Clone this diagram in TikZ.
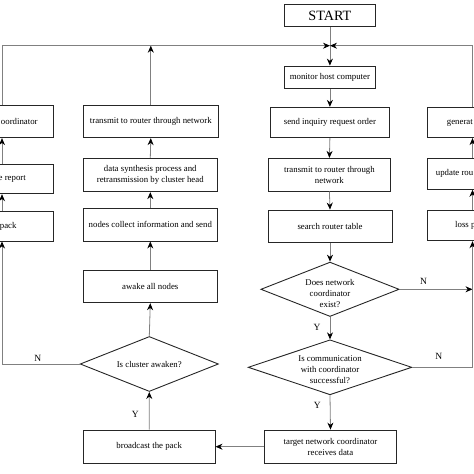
\documentclass[tikz,border=0pt]{standalone}
\usepackage{fontspec}
\setmainfont{Liberation Serif}
\usetikzlibrary{arrows.meta,shapes.geometric}
\begin{document}
\begin{tikzpicture}[x=1pt,y=-1pt,
  box/.style={draw=black!85,line width=0.9pt,rectangle,inner sep=0pt,align=center,font=\fontsize{8.8}{11}\selectfont},
  dia/.style={draw=black!85,line width=0.9pt,diamond,inner sep=0pt},
  txt/.style={inner sep=0pt,align=center,font=\fontsize{8.8}{11}\selectfont},
  lab/.style={inner sep=0pt,font=\fontsize{9.5}{11}\selectfont},
  conn/.style={draw=black!50,line width=0.8pt},
  arr/.style={conn,-{Stealth[length=7pt,width=6pt,fill=black,color=black]}}]
\useasboundingbox (0,0) rectangle (474,474);
\clip (0,0) rectangle (474,474);
% centre column
\node[box,minimum width=90.3pt,minimum height=22.7pt,font=\fontsize{14.2}{16}\selectfont] (st) at (329.9,15.4) {START};
\coordinate (junc) at (330,45.7);
\node[box,minimum width=90.3pt,minimum height=22.7pt] (mon) at (329.9,77.4) {monitor host computer};
\node[box,minimum width=119.7pt,minimum height=30.4pt] (snd) at (329.9,122.5) {send inquiry request order};
\node[box,minimum width=122.7pt,minimum height=32.7pt] (trr) at (329.4,174.7) {transmit to router through\\network};
\node[box,minimum width=124pt,minimum height=32.7pt] (src) at (330,226.4) {search router table};
\node[dia,minimum width=138.3pt,minimum height=54.4pt] (d1) at (330,289.3) {};
\node[txt] at (330,293.3) {Does network\\coordinator\\exist?};
\node[dia,minimum width=163.7pt,minimum height=55pt] (d2) at (330,367.3) {};
\node[txt] at (330,370) {Is communication\\with coordinator\\successful?};
\node[box,minimum width=131.6pt,minimum height=33.3pt] (tgt) at (330.5,446.7) {target network coordinator\\receives data};
% left-centre column
\node[box,minimum width=131.7pt,minimum height=33.3pt] (bc) at (149.2,446.7) {broadcast the pack};
\node[dia,minimum width=138.3pt,minimum height=55pt] (cl) at (149.3,364) {};
\node[txt] at (149.3,364.3) {Is cluster awaken?};
\node[box,minimum width=134pt,minimum height=32.7pt] (aw) at (150.3,286.4) {awake all nodes};
\node[box,minimum width=134pt,minimum height=32.7pt] (nc) at (150.3,224.7) {nodes collect information and send};
\node[box,minimum width=134pt,minimum height=33.4pt] (ds) at (150.3,175) {data synthesis process and\\retransmission by cluster head};
\node[box,minimum width=135pt,minimum height=32pt] (tl) at (150.8,121.7) {transmit to router through network};
% left edge column
\node[box,minimum width=102pt,minimum height=32pt] (oc) at (2,121.7) {};
\node[txt,anchor=west] at (0.8,121.7) {oordinator};
\node[box,minimum width=102pt,minimum height=29.7pt] (er) at (2,178.9) {};
\node[txt,anchor=east] at (26,178.9) {e report};
\node[box,minimum width=102pt,minimum height=29.3pt] (pk) at (2,226.4) {};
\node[txt,anchor=east] at (16.7,226.4) {pack};
% right edge column
\node[box,minimum width=90.4pt,minimum height=30.4pt] (gn) at (472.5,122.5) {};
\node[txt,anchor=west] at (446.7,122.5) {generat};
\node[box,minimum width=90.4pt,minimum height=31pt] (up) at (472.5,173.8) {};
\node[txt,anchor=west] at (435.7,173.8) {update rou};
\node[box,minimum width=90.4pt,minimum height=30.7pt] (ls) at (472.5,225.4) {};
\node[txt,anchor=west] at (455,225.4) {loss p};
% connectors, centre
\draw[arr] (st.south) -- (mon.north);
\draw[arr] (mon.south) -- (snd.north);
\draw[arr] (snd.south) -- (trr.north);
\draw[arr] (trr.south) -- (src.north);
\draw[arr] (src.south) -- (d1.north);
\draw[arr] (d1.south) -- node[lab,left=9pt,pos=0.45] (y1) {Y} (d2.north);
\draw[arr] (d2.south) -- node[lab,left=9pt,pos=0.3] (y2) {Y} (tgt.north);
\draw[arr] (tgt.west) -- (bc.east);
\draw[arr] (bc.north) -- node[lab,left=10pt,pos=0.4] (y3) {Y} (cl.south);
\draw[arr] (cl.north) -- (aw.south);
\draw[arr] (aw.north) -- (nc.south);
\draw[arr] (nc.north) -- (ds.south);
\draw[arr] (ds.north) -- (tl.south);
\draw[arr] (tl.north) -- (tl.north |- junc);
% left loop
\draw[arr] (cl.west) -| node[lab,pos=0.27,above=2pt] (n1) {N} (pk.south);
\draw[arr] (pk.north) -- (er.south);
\draw[arr] (er.north) -- (oc.south);
\draw[arr] (oc.north) |- (junc);
% right loop
\draw[arr] (d1.east) -- node[lab,above=4pt,pos=0.33] (n2) {N} (d1.east -| ls.south);
\draw[arr] (d2.east) -| node[lab,pos=0.22,above=7pt] (n3) {N} (ls.south);
\draw[arr] (ls.north) -- (up.south);
\draw[arr] (up.north) -- (gn.south);
\draw[arr] (gn.north) |- (junc);
\end{tikzpicture}
\end{document}
